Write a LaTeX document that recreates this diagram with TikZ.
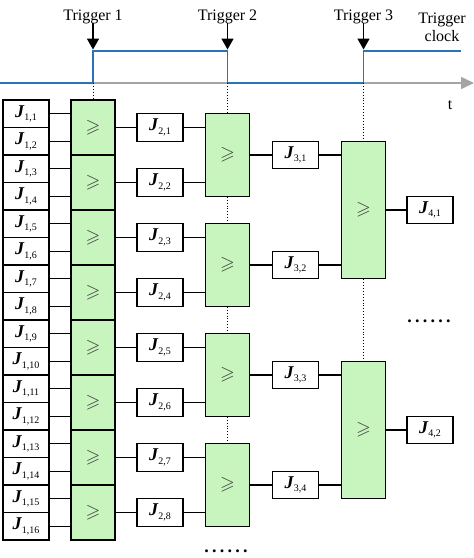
\documentclass[tikz,border=0pt]{standalone}
\usepackage{fontspec}
\setmainfont{Liberation Serif}
\usepackage{amssymb}
\usetikzlibrary{arrows.meta}
\definecolor{gatefill}{RGB}{200,245,190}
\definecolor{clockblue}{RGB}{40,115,185}
\definecolor{axisgray}{RGB}{165,165,165}
\newcommand{\jlab}[2]{{\bfseries\itshape J}\kern0.3pt\raisebox{-0.45ex}{\fontsize{10}{11}\selectfont #1,#2}}
\newcommand{\gesign}{$\geqslant$}
\tikzset{
  jbox/.style={draw, line width=1.1pt, fill=white, minimum width=46pt, minimum height=27.5pt, inner sep=0pt, font=\fontsize{18}{18}\selectfont},
  gate/.style={draw, line width=1.1pt, fill=gatefill, minimum width=44pt, minimum height=#1, inner sep=0pt, text=black!75, font=\fontsize{19}{19}\selectfont},
  wire/.style={line width=1.1pt},
  sync/.style={dotted, line width=0.9pt},
  trigarrow/.style={line width=1.8pt, -{Triangle[width=12pt,length=11pt]}},
  label/.style={font=\fontsize{16}{18}\selectfont, inner sep=0pt, align=center},
}
\begin{document}
\begin{tikzpicture}[x=1pt,y=-1pt]
\useasboundingbox (0,0) rectangle (474,558);
% time axis and clock
\coordinate (ax0) at (0,83);
\coordinate (ax1) at (474,83);
\draw[axisgray, line width=1.6pt, -{Triangle[width=12pt,length=13pt]}] (ax0) -- (ax1);
\coordinate (lo1) at (93,83);
\coordinate (up1) at (93,51);
\coordinate (up2) at (227.5,51);
\coordinate (lo2) at (227.5,83);
\coordinate (lo3) at (363.5,83);
\coordinate (up3) at (363.5,51);
\coordinate (cend) at (461,51);
\draw[clockblue, line width=1.4pt] (ax0) -- (lo1) -- (up1) -- (up2) -- (lo2) -- (lo3) -- (up3) -- (cend);
\node[label] (trig1) at (93,17) {Trigger 1};
\node[label] (trig2) at (227.5,17) {Trigger 2};
\node[label] (trig3) at (363.5,17) {Trigger 3};
\node[label] (clk) at (442,27) {Trigger\\clock};
\node[label] (tlab) at (450,105) {t};
\coordinate (top1) at (93,23);
\coordinate (top2) at (227.5,23);
\coordinate (top3) at (363.5,23);
\draw[trigarrow] (top1) -- ([yshift=1.5pt]up1);
\draw[trigarrow] (top2) -- ([yshift=1.5pt]up2);
\draw[trigarrow] (top3) -- ([yshift=1.5pt]up3);
% first stage
\node[jbox] (j1-1) at (26,113.75) {\jlab{1}{1}};
\node[jbox] (j1-2) at (26,141.25) {\jlab{1}{2}};
\node[jbox] (j1-3) at (26,168.75) {\jlab{1}{3}};
\node[jbox] (j1-4) at (26,196.25) {\jlab{1}{4}};
\node[jbox] (j1-5) at (26,223.75) {\jlab{1}{5}};
\node[jbox] (j1-6) at (26,251.25) {\jlab{1}{6}};
\node[jbox] (j1-7) at (26,278.75) {\jlab{1}{7}};
\node[jbox] (j1-8) at (26,306.25) {\jlab{1}{8}};
\node[jbox] (j1-9) at (26,333.75) {\jlab{1}{9}};
\node[jbox] (j1-10) at (26,361.25) {\jlab{1}{10}};
\node[jbox] (j1-11) at (26,388.75) {\jlab{1}{11}};
\node[jbox] (j1-12) at (26,416.25) {\jlab{1}{12}};
\node[jbox] (j1-13) at (26,443.75) {\jlab{1}{13}};
\node[jbox] (j1-14) at (26,471.25) {\jlab{1}{14}};
\node[jbox] (j1-15) at (26,498.75) {\jlab{1}{15}};
\node[jbox] (j1-16) at (26,526.25) {\jlab{1}{16}};
\node[gate=55pt] (g1-1) at (93,127.5) {\gesign};
\node[gate=55pt] (g1-2) at (93,182.5) {\gesign};
\node[gate=55pt] (g1-3) at (93,237.5) {\gesign};
\node[gate=55pt] (g1-4) at (93,292.5) {\gesign};
\node[gate=55pt] (g1-5) at (93,347.5) {\gesign};
\node[gate=55pt] (g1-6) at (93,402.5) {\gesign};
\node[gate=55pt] (g1-7) at (93,457.5) {\gesign};
\node[gate=55pt] (g1-8) at (93,512.5) {\gesign};
\draw[wire] (j1-1) -- (j1-1 -| g1-1.west);
\draw[wire] (j1-2) -- (j1-2 -| g1-1.west);
\draw[wire] (j1-3) -- (j1-3 -| g1-2.west);
\draw[wire] (j1-4) -- (j1-4 -| g1-2.west);
\draw[wire] (j1-5) -- (j1-5 -| g1-3.west);
\draw[wire] (j1-6) -- (j1-6 -| g1-3.west);
\draw[wire] (j1-7) -- (j1-7 -| g1-4.west);
\draw[wire] (j1-8) -- (j1-8 -| g1-4.west);
\draw[wire] (j1-9) -- (j1-9 -| g1-5.west);
\draw[wire] (j1-10) -- (j1-10 -| g1-5.west);
\draw[wire] (j1-11) -- (j1-11 -| g1-6.west);
\draw[wire] (j1-12) -- (j1-12 -| g1-6.west);
\draw[wire] (j1-13) -- (j1-13 -| g1-7.west);
\draw[wire] (j1-14) -- (j1-14 -| g1-7.west);
\draw[wire] (j1-15) -- (j1-15 -| g1-8.west);
\draw[wire] (j1-16) -- (j1-16 -| g1-8.west);
\draw[sync] (lo1) -- (g1-1.north);
% second stage
\node[jbox] (j2-1) at (160,127.5) {\jlab{2}{1}};
\node[jbox] (j2-2) at (160,182.5) {\jlab{2}{2}};
\node[jbox] (j2-3) at (160,237.5) {\jlab{2}{3}};
\node[jbox] (j2-4) at (160,292.5) {\jlab{2}{4}};
\node[jbox] (j2-5) at (160,347.5) {\jlab{2}{5}};
\node[jbox] (j2-6) at (160,402.5) {\jlab{2}{6}};
\node[jbox] (j2-7) at (160,457.5) {\jlab{2}{7}};
\node[jbox] (j2-8) at (160,512.5) {\jlab{2}{8}};
\draw[wire] (g1-1) -- (j2-1);
\draw[wire] (g1-2) -- (j2-2);
\draw[wire] (g1-3) -- (j2-3);
\draw[wire] (g1-4) -- (j2-4);
\draw[wire] (g1-5) -- (j2-5);
\draw[wire] (g1-6) -- (j2-6);
\draw[wire] (g1-7) -- (j2-7);
\draw[wire] (g1-8) -- (j2-8);
\node[gate=82.5pt] (g2-1) at (227.5,155) {\gesign};
\node[gate=82.5pt] (g2-2) at (227.5,265) {\gesign};
\node[gate=82.5pt] (g2-3) at (227.5,375) {\gesign};
\node[gate=82.5pt] (g2-4) at (227.5,485) {\gesign};
\draw[wire] (j2-1) -- (j2-1 -| g2-1.west);
\draw[wire] (j2-2) -- (j2-2 -| g2-1.west);
\draw[wire] (j2-3) -- (j2-3 -| g2-2.west);
\draw[wire] (j2-4) -- (j2-4 -| g2-2.west);
\draw[wire] (j2-5) -- (j2-5 -| g2-3.west);
\draw[wire] (j2-6) -- (j2-6 -| g2-3.west);
\draw[wire] (j2-7) -- (j2-7 -| g2-4.west);
\draw[wire] (j2-8) -- (j2-8 -| g2-4.west);
\draw[sync] (lo2) -- (g2-1.north);
\draw[sync] (g2-1.south) -- (g2-2.north);
\draw[sync] (g2-2.south) -- (g2-3.north);
\draw[sync] (g2-3.south) -- (g2-4.north);
% third stage
\node[jbox] (j3-1) at (295.5,155) {\jlab{3}{1}};
\node[jbox] (j3-2) at (295.5,265) {\jlab{3}{2}};
\node[jbox] (j3-3) at (295.5,375) {\jlab{3}{3}};
\node[jbox] (j3-4) at (295.5,485) {\jlab{3}{4}};
\draw[wire] (g2-1) -- (j3-1);
\draw[wire] (g2-2) -- (j3-2);
\draw[wire] (g2-3) -- (j3-3);
\draw[wire] (g2-4) -- (j3-4);
\node[gate=137.5pt] (g3-1) at (363.5,210) {\gesign};
\node[gate=137.5pt] (g3-2) at (363.5,430) {\gesign};
\draw[wire] (j3-1) -- (j3-1 -| g3-1.west);
\draw[wire] (j3-2) -- (j3-2 -| g3-1.west);
\draw[wire] (j3-3) -- (j3-3 -| g3-2.west);
\draw[wire] (j3-4) -- (j3-4 -| g3-2.west);
\draw[sync] (lo3) -- (g3-1.north);
\draw[sync] (g3-1.south) -- (g3-2.north);
% fourth stage
\node[jbox] (j4-1) at (430,210) {\jlab{4}{1}};
\node[jbox] (j4-2) at (430,430) {\jlab{4}{2}};
\draw[wire] (g3-1) -- (j4-1);
\draw[wire] (g3-2) -- (j4-2);
\node[font=\fontsize{18}{18}\selectfont\bfseries\addfontfeature{LetterSpace=18}, inner sep=0pt] (more4) at (429,321) {......};
\node[font=\fontsize{18}{18}\selectfont\bfseries\addfontfeature{LetterSpace=18}, inner sep=0pt] (more2) at (226,551) {......};
\end{tikzpicture}
\end{document}
